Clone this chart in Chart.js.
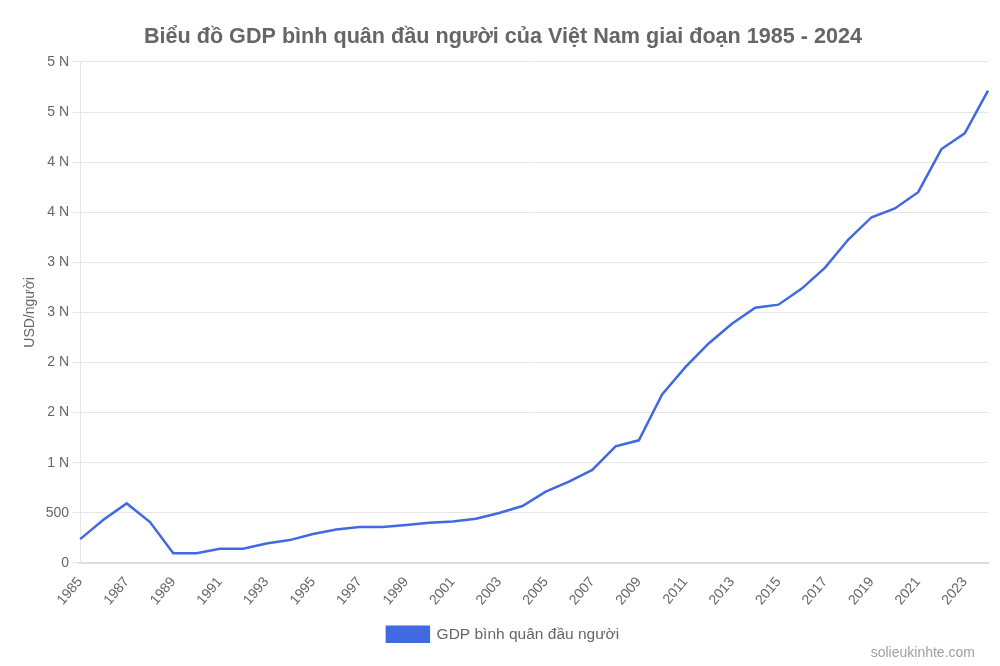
<!DOCTYPE html>
<html>
<head>
<meta charset="utf-8">
<script src="https://cdn.jsdelivr.net/npm/chart.js"></script>
<style>
  body { margin: 0; background: #fff; }
  #wrap { position: relative; width: 1000px; height: 666px; }
  #credit {
    position: absolute; right: 25px; bottom: 6px;
    font: 14px "Liberation Sans", Arial, sans-serif; color: #a0a0a0;
  }
</style>
</head>
<body>
<div id="wrap">
  <canvas id="myChart"></canvas>
  <div id="credit">solieukinhte.com</div>
</div>
<script>
let years = [];
for (let y = 1985; y <= 2024; y++) years.push(String(y));

// USD/người
let gdpPerCapita = [
  237, 430, 593, 407, 97, 97, 140, 140, 193, 227,
  287, 333, 357, 357, 377, 400, 413, 440, 497, 567,
  710, 810, 927, 1163, 1223, 1680, 1953, 2190, 2387, 2547,
  2577, 2737, 2947, 3227, 3450, 3537, 3700, 4130, 4287, 4713
];

let yTicksMax = 5000;
let yTickStep = 500;

Chart.defaults.font.family = '"Liberation Sans", Arial, sans-serif';
Chart.defaults.color = "#666";

let ctx = document.getElementById("myChart").getContext("2d");

let data = {
  type: "line",
  data: {
    labels: years,
    datasets: [
      {
        label: "GDP bình quân đầu người",
        data: gdpPerCapita,
        borderColor: "rgb(65, 105, 225)",
        backgroundColor: "rgb(65, 105, 225)",
        borderWidth: 2.5,
        fill: false,
        tension: 0,
        pointRadius: 0,
      },
    ],
  },
  options: {
    responsive: true,
    maintainAspectRatio: false,
    animation: false,
    layout: { padding: { top: 10, right: 12, bottom: 14, left: 18 } },
    plugins: {
      title: {
        display: true,
        text: "Biểu đồ GDP bình quân đầu người của Việt Nam giai đoạn 1985 - 2024",
        font: { size: 21.6, weight: "bold" },
        color: "#666",
        padding: { top: 14, bottom: 12 },
      },
      legend: {
        position: "bottom",
        labels: { boxWidth: 42, boxHeight: 15, padding: 15, font: { size: 15.5 }, color: "#666" },
      },
      tooltip: { enabled: false },
    },
    scales: {
      x: {
        grid: { display: false },
        border: { color: "#ddd", width: 2 },
        ticks: { font: { size: 14 }, maxRotation: 50, minRotation: 50, autoSkip: true },
      },
      y: {
        min: 0,
        max: yTicksMax,
        border: { color: "#e6e6e6" },
        grid: { color: "#e6e6e6" },
        title: { display: true, text: "USD/người", font: { size: 14 }, color: "#666" },
        ticks: {
          stepSize: yTickStep,
          font: { size: 14 },
          callback: (v) => (v >= 1000 ? Math.round(v / 1000) + " N" : v),
        },
      },
    },
  },
};

let myChart = new Chart(ctx, data);
</script>
</body>
</html>
